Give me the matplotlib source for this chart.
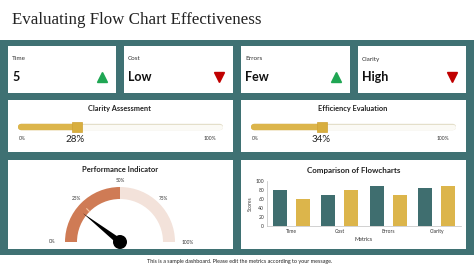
import numpy as np
import matplotlib.pyplot as plt
from matplotlib.patches import Rectangle, Wedge, Polygon, Circle

W, H = 474, 266

# KPI cards
kpi_names = ["Time", "Cost", "Errors", "Clarity"]
kpi_values = ["5", "Low", "Few", "High"]
kpi_trend = ["up", "down", "up", "down"]

# sliders
slider_titles = ["Clarity Assessment", "Efficiency Evaluation"]
slider_values = [28, 34]

# gauge
gauge_fill = 50
gauge_needle = 21
gauge_labels = [0, 25, 50, 75, 100]

# bar chart
bar_metrics = ["Time", "Cost", "Errors", "Clarity"]
bar_a = [80, 70, 90, 85]
bar_b = [60, 80, 70, 90]

TEAL = "#3f7173"
GOLD = "#dcb54b"
SANS = ["Lato", "DejaVu Sans"]
plt.rcParams["font.family"] = SANS


def box(x0, y0, x1, y1):
    # pixel box (top-left origin) -> figure fraction
    return [x0 / W, 1 - y1 / H, (x1 - x0) / W, (y1 - y0) / H]


fig = plt.figure(figsize=(W / 100, H / 100), dpi=100)
bg = fig.add_axes([0, 0, 1, 1])
bg.set_xlim(0, W)
bg.set_ylim(H, 0)
bg.axis("off")

bg.text(12, 20, "Evaluating Flow Chart Effectiveness", family="Liberation Serif",
        fontsize=12.2, color="#222222", va="center", ha="left")
bg.add_patch(Rectangle((0, 40), W, 215, color=TEAL, lw=0))

# KPI row
card_x = [(8, 116), (124, 233), (241, 350), (358, 466)]
for (x0, x1), name, val, tr in zip(card_x, kpi_names, kpi_values, kpi_trend):
    bg.add_patch(Rectangle((x0, 46), x1 - x0, 47, color="white", lw=0))
    bg.text(x0 + 4, 59, name, fontsize=4.6, color="#333333", va="center")
    bg.text(x0 + 4, 77, val, fontsize=9, fontweight="bold", color="#111111", va="center")
    if tr == "up":
        bg.plot(x1 - 14, 77, marker="^", ms=7.5, color="#1fa653", mec="#1fa653")
    else:
        bg.plot(x1 - 14, 77, marker="v", ms=7.5, color="#c00000", mec="#c00000")

# slider row
for i, (title, v) in enumerate(zip(slider_titles, slider_values)):
    x0 = 8 + i * 233
    bg.add_patch(Rectangle((x0, 100), 225, 52, color="white", lw=0))
    bg.text(x0 + 112, 109, title, fontsize=5.3, fontweight="bold", color="#222222",
            ha="center", va="center")
    ax = fig.add_axes(box(x0 + 10, 122, x0 + 215, 132))
    ax.set_xlim(-1.5, 101.5)
    ax.set_ylim(-1, 1)
    ax.axis("off")
    ax.plot([0, 100], [0, 0], lw=4.6, color="#e4dfca", solid_capstyle="round")
    ax.plot([0, 100], [0, 0], lw=3.6, color="#fbfaf5", solid_capstyle="round")
    ax.plot([0, v], [0, 0], lw=4.6, color=GOLD, solid_capstyle="round")
    ax.plot(v, 0, marker="s", ms=7, color="#d8ae3e", mec="#cfa234", mew=0.5)
    bg.text(x0 + 14, 138, "0%", fontsize=3.6, color="#333333", ha="center", va="center")
    bg.text(x0 + 202, 138, "100%", fontsize=3.6, color="#333333", ha="center", va="center")
    bg.text(x0 + 10 + 2.05 * v, 140, f"{v}%", fontsize=7, color="#222222",
            ha="center", va="center")

# bottom row cards
bg.add_patch(Rectangle((8, 160), 225, 89, color="white", lw=0))
bg.add_patch(Rectangle((241, 160), 225, 89, color="white", lw=0))
bg.text(120, 169, "Performance Indicator", fontsize=5.5, fontweight="bold",
        color="#222222", ha="center", va="center")
bg.text(354, 170, "Comparison of Flowcharts", fontsize=5.8, fontweight="bold",
        color="#222222", ha="center", va="center")

# gauge
gx = fig.add_axes(box(40, 172, 200, 252))
gx.set_xlim(-80, 80)
gx.set_ylim(-10, 70)
gx.axis("off")
r_out, ring = 55, 12
split = 180 - gauge_fill * 1.8
gx.add_patch(Wedge((0, 0), r_out, 0, split, width=ring, color="#f3e2da", lw=0))
gx.add_patch(Wedge((0, 0), r_out, split, 180, width=ring, color="#cf7b55", lw=0))
a25 = np.radians(180 - 25 * 1.8)
gx.plot([np.cos(a25) * (r_out - ring), np.cos(a25) * (r_out - ring + 4)],
        [np.sin(a25) * (r_out - ring), np.sin(a25) * (r_out - ring + 4)],
        color="#f6c9a6", lw=0.8)
na = np.radians(180 - gauge_needle * 1.8)
tip = (np.cos(na) * 47, np.sin(na) * 47)
perp = np.array([-np.sin(na), np.cos(na)]) * 3.2
gx.add_patch(Polygon([tip, perp, -perp], closed=True, color="black", lw=0))
gx.add_patch(Circle((0, 0), 7, color="black", lw=0))
for p in gauge_labels:
    a = np.radians(180 - p * 1.8)
    r = 68 if p in (0, 100) else 62
    gx.text(np.cos(a) * r, np.sin(a) * r, f"{p}%", fontsize=3.4, color="#333333",
            ha="center", va="center")

# bar chart
bx = fig.add_axes(box(267, 181, 461, 226))
xs = np.arange(len(bar_metrics))
bx.bar(xs - 0.24, bar_a, width=0.29, color="#3f6e6f")
bx.bar(xs + 0.24, bar_b, width=0.29, color=GOLD)
bx.set_xlim(-0.5, len(bar_metrics) - 0.5)
bx.set_ylim(0, 100)
bx.set_yticks(np.arange(0, 101, 20))
bx.set_xticks(xs)
bx.set_xticklabels(bar_metrics)
bx.tick_params(labelsize=3.6, length=0, pad=2, colors="#333333")
for s in ["top", "right"]:
    bx.spines[s].set_visible(False)
for s in ["left", "bottom"]:
    bx.spines[s].set_color("#bfbfbf")
    bx.spines[s].set_linewidth(0.5)
bx.set_ylabel("Scores", fontsize=3.6, labelpad=2, color="#333333")
bx.set_xlabel("Metrics", fontsize=4, labelpad=2, color="#333333")

bg.text(240, 262, "This is a sample dashboard. Please edit the metrics according to your message.",
        fontsize=3.9, color="#222222", ha="center", va="center")

fig.savefig("out.png", dpi=100)
